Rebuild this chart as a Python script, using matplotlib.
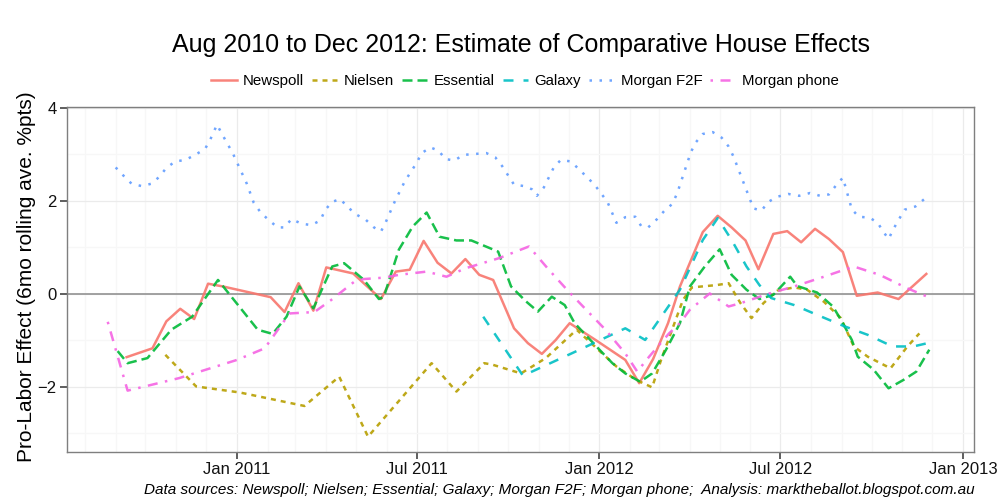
import matplotlib
matplotlib.use("Agg")
import matplotlib.pyplot as plt
import matplotlib.dates as mdates
import pandas as pd

plt.rcParams["font.family"] = ["Liberation Sans", "DejaVu Sans"]

# ---------------------------------------------------------------------------
# data
# ---------------------------------------------------------------------------

newspoll_dates = [
    "2010-09-12", "2010-10-08", "2010-10-22", "2010-11-05", "2010-11-19", "2010-12-03",
    "2010-12-18", "2011-02-04", "2011-02-18", "2011-03-04", "2011-03-19", "2011-04-01",
    "2011-04-28", "2011-05-26", "2011-06-10", "2011-06-24", "2011-07-08", "2011-07-22",
    "2011-08-05", "2011-08-19", "2011-09-02", "2011-09-16", "2011-10-07", "2011-10-21",
    "2011-11-04", "2011-11-18", "2011-12-02", "2011-12-28", "2012-01-27", "2012-02-10",
    "2012-02-24", "2012-03-10", "2012-03-22", "2012-04-14", "2012-04-29", "2012-05-13",
    "2012-05-27", "2012-06-09", "2012-06-24", "2012-07-08", "2012-07-22", "2012-08-05",
    "2012-08-19", "2012-09-02", "2012-09-16", "2012-10-07", "2012-10-28", "2012-11-25",
]
newspoll = [
    -1.36, -1.17, -0.59, -0.32, -0.54, 0.22, 0.16, -0.07, -0.39, 0.23, -0.36, 0.57,
    0.44, -0.11, 0.48, 0.52, 1.14, 0.67, 0.44, 0.75, 0.41, 0.30, -0.74, -1.06,
    -1.29, -0.99, -0.63, -0.99, -1.42, -1.92, -1.40, -0.63, 0.16, 1.33, 1.68, 1.43,
    1.15, 0.53, 1.29, 1.35, 1.11, 1.40, 1.18, 0.90, -0.04, 0.03, -0.11, 0.43,
]

nielsen_dates = [
    "2010-10-21", "2010-11-21", "2011-01-04", "2011-03-10", "2011-04-14", "2011-05-13",
    "2011-07-16", "2011-08-10", "2011-09-07", "2011-09-15", "2011-10-14", "2011-11-08",
    "2011-12-09", "2012-01-18", "2012-02-07", "2012-02-23", "2012-03-03", "2012-03-25",
    "2012-04-03", "2012-04-28", "2012-05-10", "2012-05-22", "2012-06-02", "2012-06-14",
    "2012-06-28", "2012-07-15", "2012-07-28", "2012-08-14", "2012-08-31", "2012-09-13",
    "2012-09-27", "2012-10-20", "2012-11-06", "2012-11-18",
]
nielsen = [
    -1.31, -1.99, -2.12, -2.41, -1.78, -3.07, -1.49, -2.10, -1.49, -1.52, -1.71, -1.38,
    -0.77, -1.56, -1.85, -2.01, -1.42, -0.13, 0.14, 0.19, 0.23, -0.20, -0.52, -0.20,
    0.07, 0.14, 0.09, -0.17, -0.52, -1.13, -1.35, -1.60, -1.13, -0.85,
]

essential_dates = [
    "2010-09-03", "2010-09-13", "2010-10-03", "2010-10-27", "2010-11-17", "2010-12-13",
    "2011-01-22", "2011-02-06", "2011-02-20", "2011-03-05", "2011-03-19", "2011-04-07",
    "2011-04-19", "2011-05-09", "2011-05-24", "2011-05-29", "2011-06-13", "2011-06-27",
    "2011-07-11", "2011-07-24", "2011-08-10", "2011-08-25", "2011-09-21", "2011-10-04",
    "2011-10-19", "2011-10-31", "2011-11-14", "2011-11-27", "2011-12-07", "2012-01-01",
    "2012-01-14", "2012-01-27", "2012-02-11", "2012-02-23", "2012-03-08", "2012-03-22",
    "2012-04-01", "2012-04-16", "2012-05-01", "2012-05-13", "2012-05-28", "2012-06-10",
    "2012-06-24", "2012-07-11", "2012-07-18", "2012-08-07", "2012-08-23", "2012-09-02",
    "2012-09-11", "2012-09-17", "2012-10-03", "2012-10-18", "2012-11-02", "2012-11-15",
    "2012-11-28",
]
essential = [
    -1.23, -1.49, -1.38, -0.77, -0.49, 0.30, -0.77, -0.86, -0.49, 0.16, -0.31, 0.59,
    0.66, 0.30, -0.11, -0.06, 0.95, 1.45, 1.75, 1.23, 1.15, 1.15, 0.91, 0.16,
    -0.16, -0.38, -0.06, -0.24, -0.63, -1.20, -1.49, -1.71, -1.89, -1.71, -1.20, -0.63,
    0.16, 0.59, 0.96, 0.41, 0.09, -0.11, -0.02, 0.37, 0.17, 0.03, -0.27, -0.63,
    -0.99, -1.35, -1.63, -2.03, -1.85, -1.67, -1.20,
]

galaxy_dates = [
    "2011-09-06", "2011-10-16", "2011-12-12", "2012-01-27", "2012-02-16", "2012-03-22",
    "2012-04-14", "2012-04-29", "2012-05-13", "2012-05-28", "2012-06-10", "2012-06-22",
    "2012-07-15", "2012-08-07", "2012-09-04", "2012-09-27", "2012-10-22", "2012-11-12",
    "2012-12-02",
]
galaxy = [
    -0.49, -1.76, -1.20, -0.74, -0.99, 0.09, 1.16, 1.63, 1.16, 0.59, 0.19, -0.09,
    -0.24, -0.45, -0.70, -0.88, -1.13, -1.13, -1.03,
]

f2f_dates = [
    "2010-09-01", "2010-09-09", "2010-09-17", "2010-09-27", "2010-10-07", "2010-10-15",
    "2010-10-22", "2010-10-31", "2010-11-10", "2010-11-20", "2010-11-30", "2010-12-05",
    "2010-12-12", "2010-12-17", "2010-12-28", "2011-01-11", "2011-01-18", "2011-01-25",
    "2011-02-02", "2011-02-11", "2011-02-18", "2011-02-25", "2011-03-07", "2011-03-17",
    "2011-03-26", "2011-03-31", "2011-04-07", "2011-04-15", "2011-04-23", "2011-05-01",
    "2011-05-11", "2011-05-19", "2011-05-26", "2011-05-31", "2011-06-09", "2011-06-19",
    "2011-07-01", "2011-07-06", "2011-07-15", "2011-07-23", "2011-07-30", "2011-08-08",
    "2011-08-17", "2011-08-29", "2011-09-09", "2011-09-18", "2011-09-25", "2011-10-07",
    "2011-10-17", "2011-10-25", "2011-10-30", "2011-11-06", "2011-11-16", "2011-11-23",
    "2011-12-03", "2011-12-11", "2011-12-27", "2012-01-09", "2012-01-18", "2012-01-27",
    "2012-02-06", "2012-02-12", "2012-02-19", "2012-02-28", "2012-03-06", "2012-03-14",
    "2012-03-19", "2012-04-02", "2012-04-07", "2012-04-14", "2012-04-24", "2012-05-03",
    "2012-05-10", "2012-05-15", "2012-06-04", "2012-06-12", "2012-06-19", "2012-06-28",
    "2012-07-09", "2012-07-20", "2012-07-31", "2012-08-10", "2012-08-19", "2012-08-26",
    "2012-09-02", "2012-09-11", "2012-09-18", "2012-09-29", "2012-10-07", "2012-10-13",
    "2012-10-18", "2012-10-23", "2012-11-03", "2012-11-14", "2012-11-23",
]
f2f = [
    2.72, 2.54, 2.37, 2.32, 2.37, 2.52, 2.71, 2.85, 2.88, 2.99, 3.12, 3.31,
    3.64, 3.44, 3.02, 2.37, 1.96, 1.75, 1.59, 1.43, 1.43, 1.61, 1.51, 1.48,
    1.58, 1.81, 1.98, 2.04, 1.86, 1.71, 1.59, 1.43, 1.34, 1.55, 1.99, 2.42,
    2.82, 3.03, 3.15, 3.08, 2.90, 2.87, 2.99, 3.01, 3.03, 2.94, 2.75, 2.35,
    2.32, 2.25, 2.11, 2.29, 2.72, 2.88, 2.85, 2.69, 2.35, 1.98, 1.53, 1.65,
    1.66, 1.46, 1.43, 1.61, 1.78, 1.93, 2.15, 3.05, 3.26, 3.44, 3.48, 3.36,
    3.17, 2.95, 1.84, 1.79, 1.98, 2.09, 2.15, 2.11, 2.17, 2.11, 2.14, 2.33,
    2.50, 1.82, 1.66, 1.64, 1.53, 1.33, 1.18, 1.40, 1.81, 1.88, 2.04,
]

phone_dates = [
    "2010-08-24", "2010-09-13", "2010-11-04", "2011-01-01", "2011-01-29", "2011-02-23",
    "2011-03-20", "2011-04-06", "2011-04-29", "2011-05-09", "2011-05-29", "2011-06-13",
    "2011-07-11", "2011-07-31", "2011-08-19", "2011-09-22", "2011-10-22", "2011-11-11",
    "2011-12-01", "2012-01-07", "2012-01-27", "2012-02-08", "2012-02-20", "2012-03-11",
    "2012-03-22", "2012-04-01", "2012-04-21", "2012-05-10", "2012-05-22", "2012-06-20",
    "2012-07-15", "2012-08-14", "2012-09-13", "2012-10-09", "2012-11-06", "2012-11-26",
]
phone = [
    -0.60, -2.08, -1.81, -1.42, -1.17, -0.42, -0.39, -0.13, 0.26, 0.32, 0.35, 0.41,
    0.48, 0.37, 0.55, 0.77, 1.02, 0.52, 0.05, -0.77, -1.28, -1.67, -1.35, -0.85,
    -0.63, -0.34, 0.01, -0.27, -0.20, 0.01, 0.16, 0.37, 0.59, 0.41, 0.12, -0.06,
]

# ---------------------------------------------------------------------------
# plot
# ---------------------------------------------------------------------------

series = [
    ("Newspoll", newspoll_dates, newspoll, "#F8766D", "-"),
    ("Nielsen", nielsen_dates, nielsen, "#B79F00", (0, (2, 2))),
    ("Essential", essential_dates, essential, "#00BA38", (0, (4, 2))),
    ("Galaxy", galaxy_dates, galaxy, "#00BFC4", (0, (4, 4))),
    ("Morgan F2F", f2f_dates, f2f, "#619CFF", (0, (1, 3))),
    ("Morgan phone", phone_dates, phone, "#F564E3", (0, (1, 3, 4, 3))),
]

fig = plt.figure(figsize=(10, 5), dpi=100)
ax = fig.add_axes([0.067, 0.096, 0.907, 0.69])

ax.axhline(0, color="#9a9a9a", lw=1.3, zorder=1)

handles = []
for name, d, v, col, ls in series:
    h, = ax.plot(pd.to_datetime(d), v, color=col, ls=ls, lw=1.8, alpha=0.9,
                 label=name, zorder=3)
    handles.append(h)

ax.set_xlim(pd.Timestamp("2010-07-14"), pd.Timestamp("2013-01-12"))
ax.set_ylim(-3.4, 4.02)

ax.xaxis.set_major_locator(mdates.MonthLocator(bymonth=[1, 7]))
ax.xaxis.set_major_formatter(mdates.DateFormatter("%b %Y"))
ax.xaxis.set_minor_locator(mdates.MonthLocator())
ax.set_yticks([-2, 0, 2, 4])
ax.set_yticks([-3, -1, 1, 3], minor=True)

ax.grid(which="major", color="#ebebeb", lw=0.9, zorder=0)
ax.grid(which="minor", color="#f7f7f7", lw=0.9, zorder=0)
ax.set_axisbelow(True)

for s in ax.spines.values():
    s.set_color("#7f7f7f")
    s.set_linewidth(1.0)

ax.tick_params(which="major", direction="out", length=5, width=1.1,
               color="#333333", labelsize=12, labelcolor="#111111", pad=2.5)
ax.tick_params(which="minor", length=0)

fig.text(0.027, 0.447, "Pro-Labor Effect (6mo rolling ave. %pts)",
         ha="center", va="center", rotation=90, fontsize=15)

fig.text(0.5215, 0.91, "Aug 2010 to Dec 2012: Estimate of Comparative House Effects",
         ha="center", va="center", fontsize=18)

fig.legend(handles=handles, loc="center", bbox_to_anchor=(0.525, 0.838), ncol=6,
           frameon=False, fontsize=10.8, handlelength=1.7, handletextpad=0.4,
           columnspacing=0.55)

fig.text(0.975, 0.02,
         "Data sources: Newspoll; Nielsen; Essential; Galaxy; Morgan F2F; Morgan phone;  "
         "Analysis: marktheballot.blogspot.com.au",
         ha="right", va="center", fontsize=11, style="italic")

fig.savefig("out.png", dpi=100)
